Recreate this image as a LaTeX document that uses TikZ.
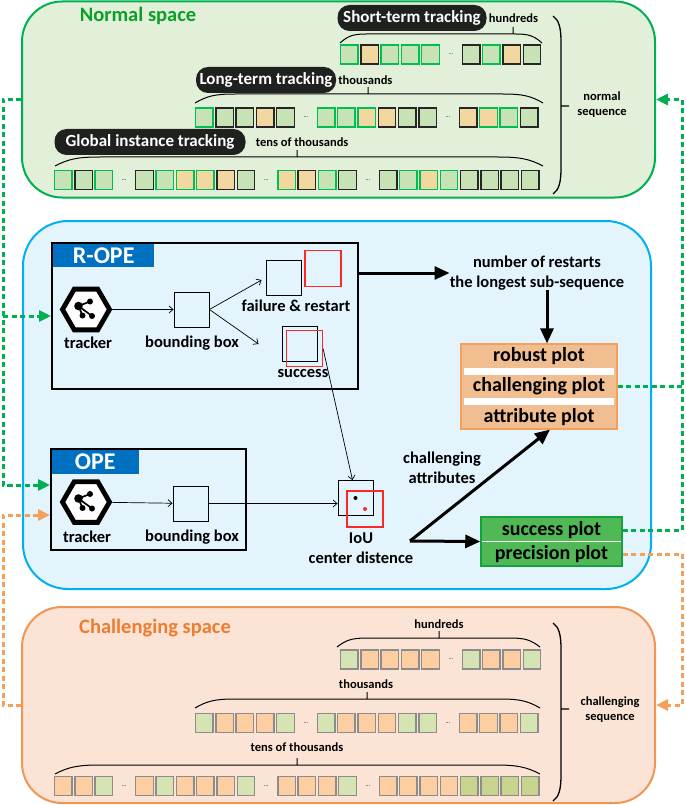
\documentclass[tikz,border=0pt]{standalone}
\usepackage{fontspec}
\setmainfont{Carlito}
\usetikzlibrary{arrows.meta,shapes.geometric,positioning}
\definecolor{nsfill}{RGB}{226,240,217}
\definecolor{nsline}{RGB}{0,176,80}
\definecolor{nstext}{RGB}{10,160,40}
\definecolor{csfill}{RGB}{251,228,213}
\definecolor{csline}{RGB}{240,150,85}
\definecolor{cstext}{RGB}{237,125,49}
\definecolor{evfill}{RGB}{227,244,252}
\definecolor{evline}{RGB}{0,176,240}
\definecolor{opeblue}{RGB}{0,112,192}
\definecolor{pillc}{RGB}{30,33,30}
\definecolor{cgreen}{RGB}{199,226,180}
\definecolor{corange}{RGB}{243,215,160}
\definecolor{cgline}{RGB}{0,190,80}
\definecolor{pgreen}{RGB}{213,228,178}
\definecolor{porange}{RGB}{252,206,162}
\definecolor{polive}{RGB}{200,212,142}
\definecolor{cellgray}{RGB}{140,140,140}
\definecolor{plotorange}{RGB}{240,190,145}
\definecolor{plotoline}{RGB}{245,160,90}
\definecolor{plotgreen}{RGB}{80,185,85}
\definecolor{plotgline}{RGB}{20,160,60}
\definecolor{dashorange}{RGB}{243,160,90}
\definecolor{boxred}{RGB}{250,40,40}
\begin{document}
\begin{tikzpicture}[x=1pt,y=-1pt,
    spacebox/.style={line width=2pt,rounded corners=40pt,minimum width=633pt,minimum height=196pt,inner sep=0pt},
    title/.style={font=\fontsize{20.5}{24}\selectfont\bfseries},
    pill/.style={fill=pillc,text=white,rounded corners=12pt,minimum height=26pt,inner sep=0pt,font=\fontsize{17}{20}\selectfont\bfseries},
    small/.style={font=\fontsize{12.5}{15}\selectfont\bfseries,inner sep=0pt,align=center},
    lbl/.style={font=\fontsize{16.5}{20}\selectfont\bfseries,inner sep=0pt,align=center},
    plotlbl/.style={font=\fontsize{20}{22}\selectfont\bfseries,inner sep=0pt},
    tag/.style={fill=opeblue,text=white,inner sep=0pt,minimum height=23pt,font=\fontsize{24}{26}\selectfont\bfseries},
    cell/.style={minimum width=17.5pt,minimum height=19pt,inner sep=0pt,line width=1.4pt},
    gg/.style={cell,draw=cgline,fill=cgreen},
    kg/.style={cell,draw=black!85,fill=cgreen},
    go/.style={cell,draw=cgline,fill=corange},
    ko/.style={cell,draw=black!85,fill=corange},
    pg/.style={cell,draw=cellgray,fill=pgreen},
    po/.style={cell,draw=cellgray,fill=porange},
    pv/.style={cell,draw=cellgray,fill=polive},
    dd/.style={cell,label={[font=\fontsize{6}{6}\selectfont,inner sep=0pt]center:...}},
    bracel/.style={line width=1pt},
    tracker/.style={regular polygon,regular polygon sides=6,minimum size=47pt,inner sep=0pt,draw,line width=4.8pt,fill=white},
    bbox/.style={draw,minimum size=35pt,inner sep=0pt,line width=0.9pt},
    rbox/.style={draw=boxred,minimum size=36pt,inner sep=0pt,line width=1.1pt},
    stage/.style={draw,line width=2pt,inner sep=0pt},
    thinarr/.style={-{Straight Barb[length=4pt,width=7pt]},line width=0.7pt},
    bigarrow/.style={-{Triangle[length=15pt,width=13pt]},line width=3pt},
    gdash/.style={draw=nsline,line width=3pt,dash pattern=on 5pt off 3.5pt},
    odash/.style={gdash,draw=dashorange},
    dashtip/.style={-{Triangle[length=12pt,width=11pt]}}]
  \useasboundingbox (0,0) rectangle (685,805);
  \node[spacebox,draw=nsline,fill=nsfill] (ns) at (338.5,99.5) {};
  \node[spacebox,draw=evline,fill=evfill,minimum width=628pt,minimum height=368pt,rounded corners=45pt] (ev) at (337,405) {};
  \node[spacebox,draw=csline,fill=csfill] (cs) at (338.5,705) {};
  \node[title,text=nstext] (nstitle) at (138,16) {Normal space};
  \node[title,text=cstext] (cstitle) at (155,628) {Challenging space};

  \node[pill,minimum width=149pt] (short) at (412,18) {Short-term tracking};
  \node[small,right=2pt of short] (hun) {hundreds};
  \node[pill,minimum width=140pt] (long) at (266,80) {Long-term tracking};
  \node[small,right=2pt of long] (thou) {thousands};
  \node[pill,minimum width=191pt] (global) at (150,142) {Global instance tracking};
  \node[small,right=10pt of global] (tens) {tens of thousands};
  \node[small] (chun) at (439,624) {hundreds};
  \node[small] (cthou) at (366,684) {thousands};
  \node[small] (ctens) at (297,747) {tens of thousands};
  \node[small] (nseq) at (602,105) {normal\\sequence};
  \node[small] (cseq) at (610,710) {challenging\\sequence};

  \foreach \c [count=\i from 0] in {gg,ko,gg,gg,gg,dd,kg,gg,ko,kg}
    \node[\c] (na\i) at (349.3+20.3*\i,54.5) {};
  \foreach \c [count=\i from 0] in {gg,kg,kg,ko,kg,dd,gg,gg,go,ko,kg,kg,dd,ko,go,gg,kg}
    \node[\c] (nb\i) at (204.3+20.3*\i,117.5) {};
  \foreach \c [count=\i from 0] in {gg,kg,gg,dd,kg,gg,go,go,ko,kg,dd,go,ko,gg,kg,dd,kg,gg,go,gg,kg,kg,kg,kg}
    \node[\c] (nc\i) at (63.3+20.3*\i,180) {};
  \foreach \c [count=\i from 0] in {pg,po,po,po,po,dd,pg,po,po,pg}
    \node[\c] (ca\i) at (349.3+20.3*\i,659.5) {};
  \foreach \c [count=\i from 0] in {pg,po,po,po,pg,dd,pg,po,po,po,pg,pg,dd,po,po,po,pg}
    \node[\c] (cb\i) at (204.3+20.3*\i,723) {};
  \foreach \c [count=\i from 0] in {po,po,pg,dd,po,pg,po,po,po,pg,dd,po,po,po,pg,dd,po,po,po,po,pv,pv,pv,pv}
    \node[\c] (cc\i) at (63.3+20.3*\i,786) {};

  \foreach \a/\b/\t/\y/\w in {340/542/513/34/26, 195/543/368/94/40, 55/543/297/157/45,
                               337/540/439/638/30, 195/540/367/699/40, 55/540/297/765/45}
    \draw[bracel] (\a,\y+9) .. controls (\a+0.3*\w,\y+2) and (\a+0.5*\w,\y) .. (\a+\w,\y)
      -- (\b-\w,\y) .. controls (\b-0.5*\w,\y) and (\b-0.3*\w,\y+2) .. (\b,\y+9)
      (\t,\y) -- (\t,\y-7);
  \foreach \y/\m in {16/106, 623/709}
    \draw[line width=1.3pt] (553,\y) .. controls (559,\y+4) and (561,\y+12) .. (561,\y+26)
      -- (561,\y+152) .. controls (561,\y+166) and (559,\y+174) .. (553,\y+178)
      (561,\m) -- (569,\m);

  \node[stage,minimum width=306pt,minimum height=146pt] (rope) at (205,316) {};
  \node[tag,minimum width=101pt,anchor=north west] (ropetag) at ([shift={(2pt,-2pt)}]rope.north west) {R-OPE};
  \node[stage,minimum width=195pt,minimum height=101pt] (ope) at (148.5,499.5) {};
  \node[tag,minimum width=87pt,minimum height=24pt,anchor=north west] (opetag) at ([shift={(1.5pt,-1.5pt)}]ope.north west) {OPE};

  \node[tracker] (trk1) at (86,309.5) {};
  \node[tracker] (trk2) at (86,502) {};
  \foreach \t in {trk1,trk2} {
    \begin{scope}[shift={(\t.center)}]
      \draw[line width=1.7pt] (-7.5,-3.5) -- (4,-8) (-7.5,-3.5) -- (-3.5,6) (-7.5,-3.5) -- (6,6.5);
      \fill (-7.5,-3.5) circle (4.3pt) (4,-8) circle (3pt) (-3.5,6) circle (3pt) (6,6.5) circle (3pt);
    \end{scope}
  }
  \node[lbl] (trk1l) at (88,343) {tracker};
  \node[lbl] (trk2l) at (87,537) {tracker};

  \node[bbox] (bb1) at (191.5,309.5) {};
  \node[lbl] (bb1l) at (192,343) {bounding box};
  \node[bbox] (fail) at (283.5,278) {};
  \node[rbox] (failr) at (323,268.5) {};
  \node[lbl] (faill) at (296,306) {failure \& restart};
  \node[bbox] (succ) at (299.5,344) {};
  \node[rbox] (succr) at (304.5,348.5) {};
  \node[lbl] (succl) at (303,373) {success};
  \node[bbox] (bb2) at (190.5,503.5) {};
  \node[lbl] (bb2l) at (192,537) {bounding box};
  \node[bbox] (iou) at (355.5,498) {};
  \node[rbox] (iour) at (365,509) {};
  \fill (iou.center) circle (2pt);
  \fill[boxred] (iour.center) circle (2pt);
  \node[lbl] (ioul) at (361,548) {IoU\\center distence};

  \node[lbl] (restarts) at (537,273) {number of restarts\\the longest sub-sequence};
  \node[lbl] (chatt) at (442,468) {challenging\\attributes};

  \node[draw=plotoline,fill=plotorange,line width=1.2pt,minimum width=156pt,minimum height=85pt,inner sep=0pt] (plots) at (539,386.5) {};
  \fill[white] (464,368) rectangle (614,375);
  \fill[white] (464,398) rectangle (614,405);
  \node[plotlbl] (robust) at (539,356.5) {robust plot};
  \node[plotlbl] (chall) at (539,386.5) {challenging plot};
  \node[plotlbl] (attr) at (539,417) {attribute plot};
  \node[draw=plotgline,fill=plotgreen,line width=1.5pt,minimum width=141pt,minimum height=49pt,inner sep=0pt] (gplots) at (551.5,541.5) {};
  \draw[white,line width=1pt] ([xshift=2pt]gplots.west) -- ([xshift=-2pt]gplots.east);
  \node[plotlbl] (succp) at (551.5,530) {success plot};
  \node[plotlbl] (precp) at (551.5,554) {precision plot};

  \begin{scope}[thinarr]
    \draw (trk1) -- (bb1);
    \draw (bb1.east) -- ([shift={(-4pt,-2pt)}]fail.west);
    \draw (bb1.east) -- ([xshift=-23pt]succ.west);
    \draw (succr.east) -- ([xshift=-3pt]iou.north);
    \draw (trk2) -- (bb2);
    \draw (bb2.east) -- (bb2.east -| iou.west);
  \end{scope}

  \coordinate (v) at (410,541);
  \begin{scope}[bigarrow]
    \draw (rope.east |- restarts.west) -- (restarts.west);
    \draw ([xshift=10pt]restarts.south) -- ([xshift=10pt]restarts.south |- plots.north);
    \draw (v) -- (gplots.west);
    \draw (v) -- ([xshift=11pt]plots.south);
  \end{scope}

  \coordinate (lg) at (3,0);
  \coordinate (rg) at (682,0);
  \draw[gdash,dashtip] (ns.west) -- (ns.west -| lg) |- ([yshift=14.5pt]ope.west);
  \draw[gdash,dashtip] (lg |- rope.west) -- (rope.west);
  \draw[odash,dashtip] (cs.west) -- (cs.west -| lg) |- ([yshift=-15.5pt]ope.west);
  \draw[gdash,dashtip] (gplots.east |- succp) -| (rg |- ns.east) -- (ns.east);
  \draw[gdash] (plots.east |- chall) -- (rg |- chall);
  \draw[odash,dashtip] (gplots.east |- precp) -| (rg |- cs.east) -- (cs.east);
\end{tikzpicture}
\end{document}
